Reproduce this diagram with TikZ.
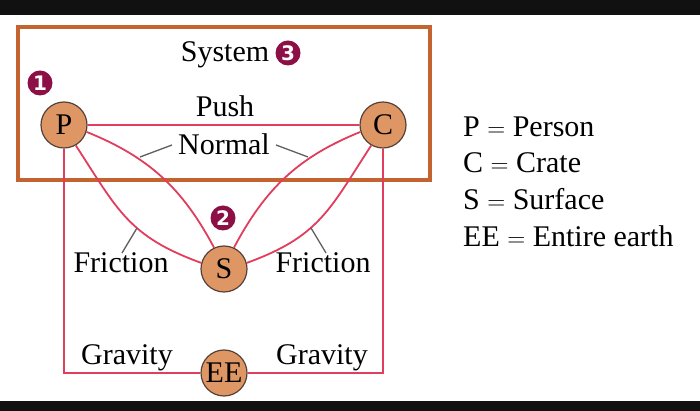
\documentclass[tikz,border=0pt]{standalone}
\usepackage{fontspec}
\setmainfont{Liberation Serif}
\newfontfamily\badgefont{DejaVu Sans}
\definecolor{barc}{RGB}{17,17,17}
\definecolor{boxc}{RGB}{196,98,48}
\definecolor{forcec}{RGB}{224,62,92}
\definecolor{ballfill}{RGB}{222,150,100}
\definecolor{ballline}{RGB}{85,65,55}
\definecolor{badgec}{RGB}{140,16,70}
\definecolor{tickc}{RGB}{95,95,95}
\begin{document}
\begin{tikzpicture}[x=1pt,y=1pt,
  every node/.style={font=\fontsize{30}{35}\selectfont},
  ball/.style={circle,draw=ballline,line width=1.2pt,fill=ballfill,minimum size=46pt,inner sep=0pt},
  badge/.style={circle,fill=badgec,minimum size=25pt,inner sep=0pt,text=white,font=\badgefont\bfseries\fontsize{20}{20}\selectfont},
  force/.style={draw=forcec,line width=1.8pt},
  leader/.style={draw=tickc,line width=1.3pt},
  lbl/.style={anchor=base,inner sep=0pt},
  legend/.style={anchor=base west,inner sep=0pt}]
\useasboundingbox (0,0) rectangle (700,411);
\fill[barc] (0,396) rectangle (700,411);
\fill[barc] (0,0) rectangle (700,10);
% system box
\draw[boxc,line width=3.2pt] (18,231) rectangle (430,384);
\node[lbl] (sys) at (225,349) {System};
\node[badge] (b3) at (288,358) {3};
\node[badge] (b1) at (40,328) {1};
\node[badge] (b2) at (223,193) {2};
% objects
\node[ball] (P) at (64,286) {P};
\node[ball] (C) at (383,286) {C};
\node[ball] (S) at (224,142) {S};
\node[ball] (EE) at (224,38) {EE};
\coordinate (PL) at (64,38);
\coordinate (CR) at (383,38);
% interactions
\draw[force] (P) -- (C);
\draw[force] (P) -- (PL) -- (EE);
\draw[force] (C) -- (CR) -- (EE);
\draw[force] (P.-60) to[out=-57,in=160,looseness=1.15] (S.165);
\draw[force] (P.-17) to[out=-22,in=118] (S.115);
\draw[force] (C.-120) to[out=-123,in=20,looseness=1.15] (S.15);
\draw[force] (C.-163) to[out=-158,in=62] (S.65);
% labels
\node[lbl] (push) at (225,294) {Push};
\node[lbl] (normal) at (224,256) {Normal};
\node[lbl] (fricL) at (121,138) {Friction};
\node[lbl] (fricR) at (323,138) {Friction};
\node[lbl] (gravL) at (127,46) {Gravity};
\node[lbl] (gravR) at (322,46) {Gravity};
\coordinate (nL1) at (172,266);
\coordinate (nL2) at (140,254);
\coordinate (nR1) at (276,266);
\coordinate (nR2) at (308,254);
\coordinate (fL1) at (122,158);
\coordinate (fL2) at (137,183);
\coordinate (fR1) at (326,158);
\coordinate (fR2) at (311,183);
\draw[leader] (nL1) -- (nL2);
\draw[leader] (nR1) -- (nR2);
\draw[leader] (fL1) -- (fL2);
\draw[leader] (fR1) -- (fR2);
% legend
\node[legend] (l1) at (463,274) {P $=$ Person};
\node[legend] (l2) at (463,238) {C $=$ Crate};
\node[legend] (l3) at (463,201) {S $=$ Surface};
\node[legend] (l4) at (463,164) {EE $=$ Entire earth};
\end{tikzpicture}
\end{document}
